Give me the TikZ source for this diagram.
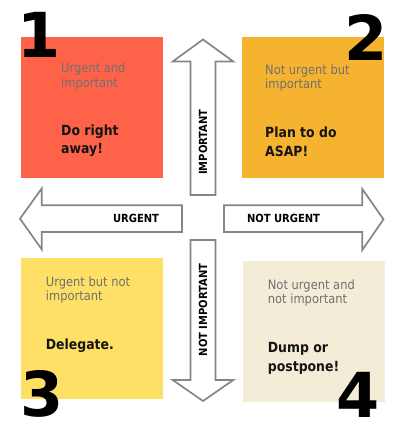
\documentclass[tikz,border=0pt]{standalone}
\usepackage{fontspec}
\setmainfont{DejaVu Sans}[FakeStretch=0.89]
\newfontfamily\numfont{DejaVu Sans}
\definecolor{cone}{HTML}{FE6349}
\definecolor{ctwo}{HTML}{F5B32F}
\definecolor{cthree}{HTML}{FFE066}
\definecolor{cfour}{HTML}{F3EDD8}
\definecolor{graytxt}{HTML}{707070}
\definecolor{arrowgray}{HTML}{858585}
\tikzset{
  quad/.style={draw=none, minimum width=142pt, minimum height=141pt, inner sep=0pt},
  bigarrow/.style={draw=arrowgray, fill=white, line width=1.7pt, line join=miter},
  axislabel/.style={font=\bfseries\fontsize{11.2}{13}\selectfont, inner sep=0pt, text=black},
  graylbl/.style={font=\fontsize{12.9}{15}\selectfont, text=graytxt, anchor=base west, inner sep=0pt},
  blacklbl/.style={font=\bfseries\fontsize{14}{16}\selectfont, text=black!92, anchor=base west, inner sep=0pt},
  bignum/.style={font=\numfont\bfseries\fontsize{62}{62}\selectfont, text=black, inner sep=0pt}
}
\begin{document}
\begin{tikzpicture}[x=1pt,y=-1pt]
\useasboundingbox (0,0) rectangle (405,431);
% quadrant boxes
\node[quad, fill=cone]   (q1) at (92,107.5) {};
\node[quad, fill=ctwo]   (q2) at (313,107.5) {};
\node[quad, fill=cthree] (q3) at (92,328.5) {};
\node[quad, fill=cfour]  (q4) at (314,331.5) {};
% arrows
\draw[bigarrow] (203,39.5) -- (233.3,61.5) -- (215.5,61.5) -- (215.5,195) -- (190.5,195) -- (190.5,61.5) -- (172.7,61.5) -- cycle;
\draw[bigarrow] (190.5,240) -- (215.5,240) -- (215.5,380) -- (233.3,380) -- (203,401) -- (172.7,380) -- (190.5,380) -- cycle;
\draw[bigarrow] (20,218.7) -- (41.7,188.5) -- (41.7,205.2) -- (182,205.2) -- (182,232) -- (41.7,232) -- (41.7,249.3) -- cycle;
\draw[bigarrow] (224,205.2) -- (362.3,205.2) -- (362.3,189) -- (383.5,219.3) -- (362.3,250) -- (362.3,232) -- (224,232) -- cycle;
% axis labels
\node[axislabel, rotate=90] (limp) at (203,142) {IMPORTANT};
\node[axislabel, rotate=90] (lnimp) at (203,310) {NOT IMPORTANT};
\node[axislabel] (lurg) at (136,218.5) {URGENT};
\node[axislabel] (lnurg) at (283.5,218.5) {NOT URGENT};
% box 1 texts
\node[graylbl] (t1a) at (61,72.7) {Urgent and};
\node[graylbl] (t1b) at (61,87) {important};
\node[blacklbl] (t1c) at (61,135) {Do right};
\node[blacklbl] (t1d) at (61,153.5) {away!};
% box 2 texts
\node[graylbl] (t2a) at (265,74) {Not urgent but};
\node[graylbl] (t2b) at (265,88.5) {important};
\node[blacklbl] (t2c) at (265,137) {Plan to do};
\node[blacklbl] (t2d) at (265,156) {ASAP!};
% box 3 texts
\node[graylbl] (t3a) at (45.7,286) {Urgent but not};
\node[graylbl] (t3b) at (45.7,300.5) {important};
\node[blacklbl] (t3c) at (45.7,349) {Delegate.};
% box 4 texts
\node[graylbl] (t4a) at (267.7,289) {Not urgent and};
\node[graylbl] (t4b) at (267.7,303.5) {not important};
\node[blacklbl] (t4c) at (267.7,352) {Dump or};
\node[blacklbl] (t4d) at (267.7,371) {postpone!};
% big numbers
\node[bignum] (n1) at (39,34.5) {1};
\node[bignum] (n2) at (366,37.5) {2};
\node[bignum] (n3) at (42.5,393.5) {3};
\node[bignum] (n4) at (358.5,394.5) {4};
\end{tikzpicture}
\end{document}
